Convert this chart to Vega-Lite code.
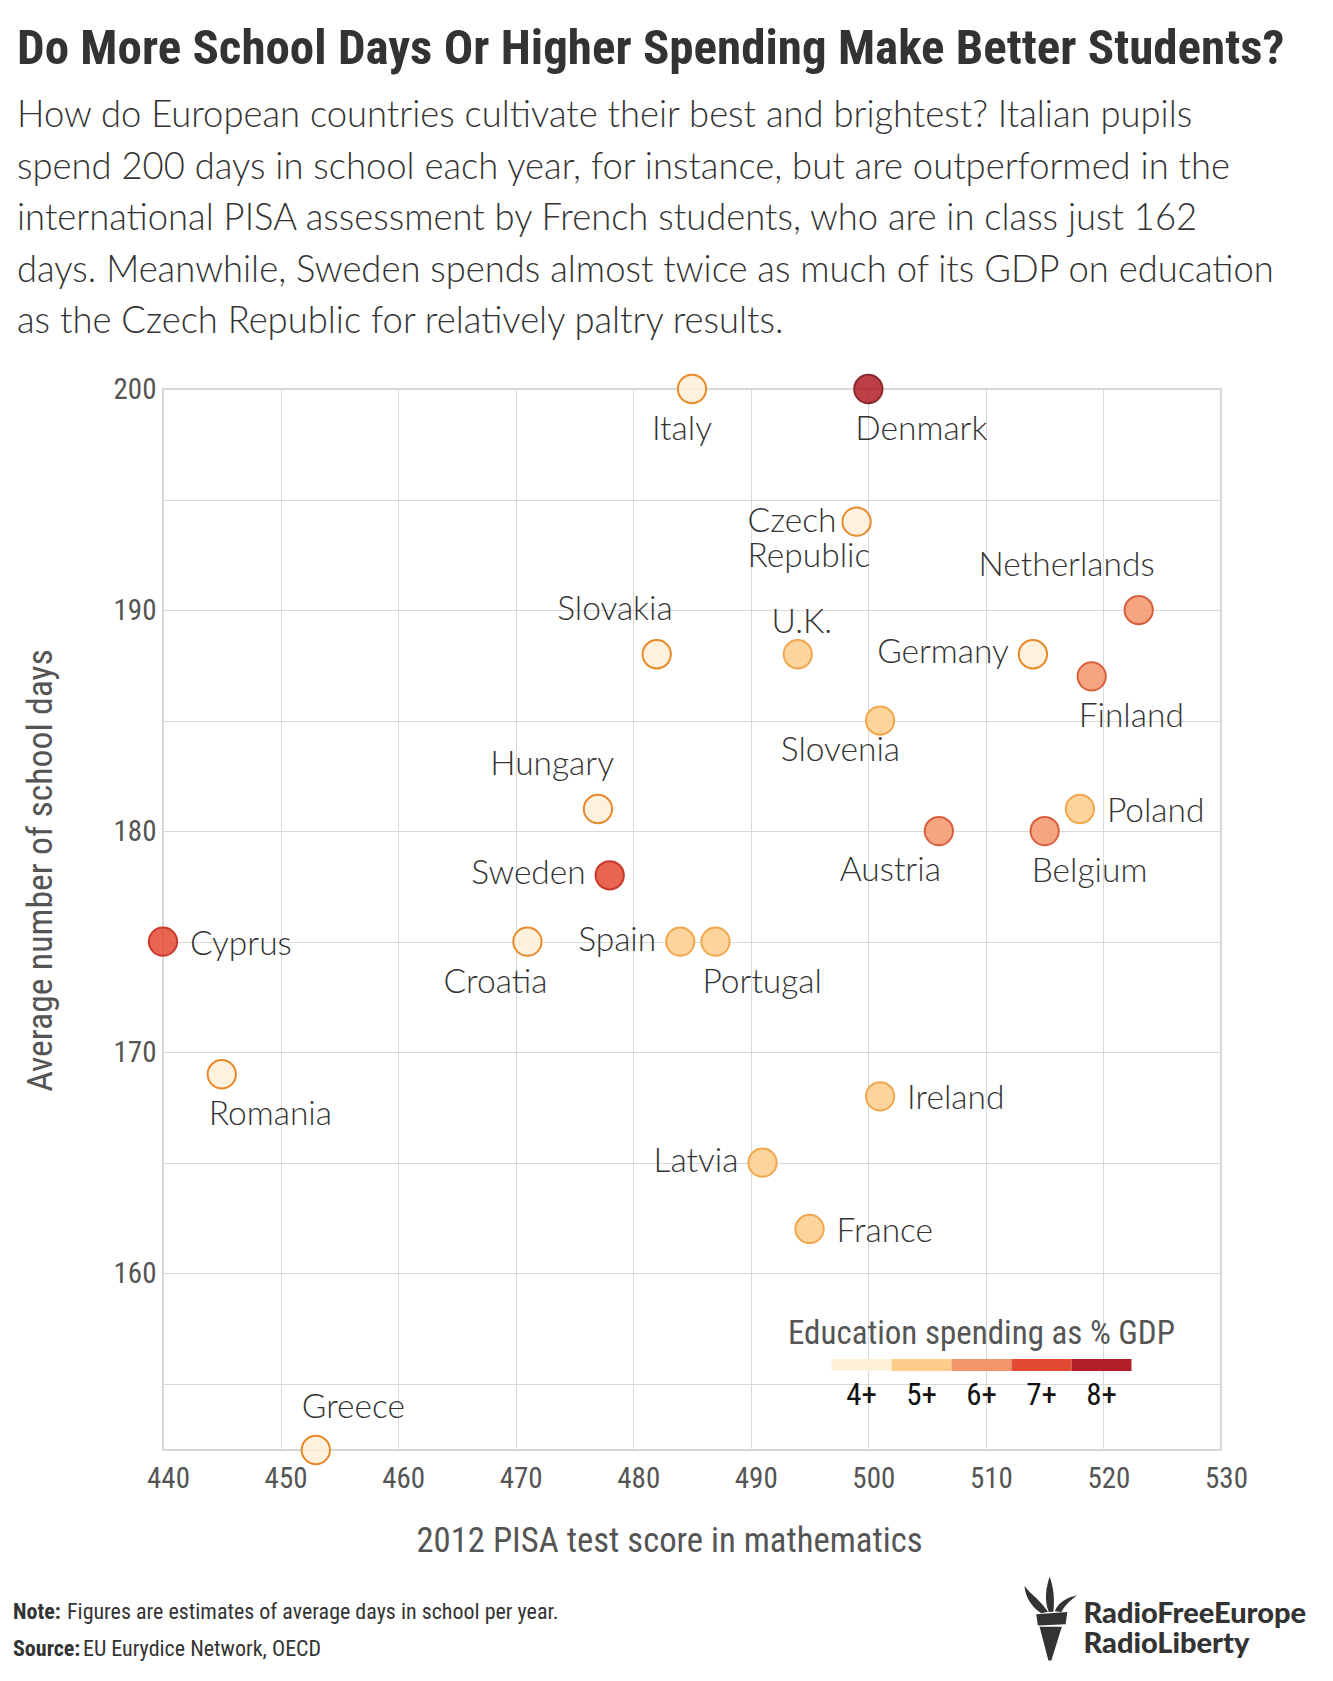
{
  "$schema": "https://vega.github.io/schema/vega-lite/v6.json",
  "autosize": {"type": "pad"},
  "padding": {"left": 13, "top": 25, "right": 10, "bottom": 10},
  "background": "white",
  "config": {
    "view": {"stroke": null},
    "font": "Roboto Condensed, Roboto, sans-serif"
  },
  "title": {
    "text": "Do More School Days Or Higher Spending Make Better Students?",
    "subtitle": [
      "How do European countries cultivate their best and brightest? Italian pupils",
      "spend 200 days in school each year, for instance, but are outperformed in the",
      "international PISA assessment by French students, who are in class just 162",
      "days. Meanwhile, Sweden spends almost twice as much of its GDP on education",
      "as the Czech Republic for relatively paltry results."
    ],
    "anchor": "start",
    "frame": "group",
    "baseline": "top",
    "dx": -146,
    "offset": 29,
    "font": "Roboto Condensed, Roboto, sans-serif",
    "fontSize": 49,
    "fontWeight": "bold",
    "color": "#333333",
    "subtitleFont": "Lato, Noto Sans, sans-serif",
    "subtitleFontSize": 36.4,
    "subtitleFontWeight": 300,
    "subtitleColor": "#333333",
    "subtitleLineHeight": 51.5,
    "subtitlePadding": 24
  },
  "datasets": {
    "countries": [
      {"country": "Italy", "math": 485, "days": 200, "spending": "4+"},
      {"country": "Denmark", "math": 500, "days": 200, "spending": "8+"},
      {"country": "Czech Republic", "math": 499, "days": 194, "spending": "4+"},
      {"country": "Netherlands", "math": 523, "days": 190, "spending": "6+"},
      {"country": "Slovakia", "math": 482, "days": 188, "spending": "4+"},
      {"country": "U.K.", "math": 494, "days": 188, "spending": "5+"},
      {"country": "Germany", "math": 514, "days": 188, "spending": "4+"},
      {"country": "Finland", "math": 519, "days": 187, "spending": "6+"},
      {"country": "Slovenia", "math": 501, "days": 185, "spending": "5+"},
      {"country": "Hungary", "math": 477, "days": 181, "spending": "4+"},
      {"country": "Poland", "math": 518, "days": 181, "spending": "5+"},
      {"country": "Austria", "math": 506, "days": 180, "spending": "6+"},
      {"country": "Belgium", "math": 515, "days": 180, "spending": "6+"},
      {"country": "Sweden", "math": 478, "days": 178, "spending": "7+"},
      {"country": "Cyprus", "math": 440, "days": 175, "spending": "7+"},
      {"country": "Croatia", "math": 471, "days": 175, "spending": "4+"},
      {"country": "Spain", "math": 484, "days": 175, "spending": "5+"},
      {"country": "Portugal", "math": 487, "days": 175, "spending": "5+"},
      {"country": "Romania", "math": 445, "days": 169, "spending": "4+"},
      {"country": "Ireland", "math": 501, "days": 168, "spending": "5+"},
      {"country": "Latvia", "math": 491, "days": 165, "spending": "5+"},
      {"country": "France", "math": 495, "days": 162, "spending": "5+"},
      {"country": "Greece", "math": 453, "days": 152, "spending": "4+"}
    ],
    "brand": [{"name": "RFE/RL torch"}]
  },
  "bounds": "flush",
  "spacing": 191,
  "vconcat": [
    {
      "width": 1058,
      "height": 1061,
      "view": {"stroke": "#d6d6d6", "strokeWidth": 2},
      "data": {"name": "countries"},
      "encoding": {
        "x": {
          "field": "math",
          "type": "quantitative",
          "scale": {"domain": [440, 530], "nice": false, "zero": false},
          "axis": {
            "values": [440, 450, 460, 470, 480, 490, 500, 510, 520, 530],
            "grid": true, "gridColor": "#d9d9d9", "gridWidth": 1,
            "domain": false, "ticks": false, "tickSize": 0,
            "labelFlush": false, "labelOverlap": false,
            "labelOffset": 5, "labelPadding": 14,
            "labelFontSize": 29, "labelColor": "#555555",
            "title": "2012 PISA test score in mathematics",
            "titleFontSize": 34.7, "titleFontWeight": "normal", "titleColor": "#555555",
            "titleX": 506, "titleY": 101, "titleAlign": "center", "titleBaseline": "alphabetic"
          }
        },
        "y": {
          "field": "days",
          "type": "quantitative",
          "scale": {"domain": [152, 200], "nice": false, "zero": false},
          "axis": {
            "values": [155, 160, 165, 170, 175, 180, 185, 190, 195, 200],
            "labelExpr": "datum.value % 10 === 0 ? datum.label : ''",
            "grid": true, "gridColor": "#d9d9d9", "gridWidth": 1,
            "domain": false, "ticks": false, "tickSize": 0,
            "labelOverlap": false, "labelPadding": 7,
            "labelFontSize": 29, "labelColor": "#555555",
            "title": "Average number of school days",
            "titleFontSize": 35.8, "titleFontWeight": "normal", "titleColor": "#555555",
            "titleAngle": -90, "titleX": -111.5, "titleY": 481,
            "titleAlign": "center", "titleBaseline": "alphabetic"
          }
        }
      },
      "layer": [
        {
          "mark": {"type": "circle", "size": 800, "strokeWidth": 2, "opacity": 1, "fillOpacity": 0.85},
          "encoding": {
            "fill": {
              "field": "spending",
              "type": "ordinal",
              "scale": {
                "domain": ["4+", "5+", "6+", "7+", "8+"],
                "range": ["#fef0d9", "#fdcc8a", "#f4956b", "#e34a33", "#b31f27"]
              },
              "legend": {
                "title": "Education spending as % GDP",
                "orient": "none",
                "legendX": 625.5,
                "legendY": 929,
                "direction": "horizontal",
                "columns": 5,
                "columnPadding": 0,
                "rowPadding": 0,
                "padding": 0,
                "symbolType": "M-1,-0.73H1V-0.33H-1Z",
                "symbolSize": 3600,
                "symbolStrokeWidth": 0,
                "symbolStrokeColor": "transparent",
                "symbolOpacity": 1,
                "labelAlign": "center",
                "labelBaseline": "top",
                "labelOffset": -30,
                "labelFontSize": 31,
                "labelColor": "#111111",
                "labelLimit": 0,
                "titleFontSize": 33,
                "titleFontWeight": "normal",
                "titleColor": "#555555",
                "titleAnchor": "middle",
                "titleLimit": 0,
                "titlePadding": 0
              }
            },
            "stroke": {
              "field": "spending",
              "type": "ordinal",
              "scale": {
                "domain": ["4+", "5+", "6+", "7+", "8+"],
                "range": ["#e8892a", "#f0a850", "#d9603f", "#c9392c", "#8b2a2e"]
              },
              "legend": null
            }
          }
        },
        {
          "transform": [{"filter": {"field": "country", "oneOf": ["Poland", "Cyprus", "Ireland", "France"]}}],
          "mark": {"type": "text", "align": "left", "baseline": "alphabetic", "dx": 27, "dy": 13, "font": "Lato, Noto Sans, sans-serif", "fontWeight": 300, "fontSize": 33.5, "color": "#333333"},
          "encoding": {"text": {"field": "country"}}
        },
        {
          "transform": [{"filter": {"field": "country", "oneOf": ["Germany", "Sweden", "Spain", "Latvia"]}}],
          "mark": {"type": "text", "align": "right", "baseline": "alphabetic", "dx": -24, "dy": 9, "font": "Lato, Noto Sans, sans-serif", "fontWeight": 300, "fontSize": 33.5, "color": "#333333"},
          "encoding": {"text": {"field": "country"}}
        },
        {
          "transform": [{"filter": {"field": "country", "oneOf": ["Netherlands", "Slovakia", "Hungary"]}}],
          "mark": {"type": "text", "align": "right", "baseline": "alphabetic", "dx": 16, "dy": -34, "font": "Lato, Noto Sans, sans-serif", "fontWeight": 300, "fontSize": 33.5, "color": "#333333"},
          "encoding": {"text": {"field": "country"}}
        },
        {
          "transform": [{"filter": {"field": "country", "oneOf": ["Greece"]}}],
          "mark": {"type": "text", "align": "left", "baseline": "alphabetic", "dx": -14, "dy": -32, "font": "Lato, Noto Sans, sans-serif", "fontWeight": 300, "fontSize": 33.5, "color": "#333333"},
          "encoding": {"text": {"field": "country"}}
        },
        {
          "transform": [{"filter": {"field": "country", "oneOf": ["U.K."]}}],
          "mark": {"type": "text", "align": "center", "baseline": "alphabetic", "dx": 4, "dy": -21, "font": "Lato, Noto Sans, sans-serif", "fontWeight": 300, "fontSize": 33.5, "color": "#333333"},
          "encoding": {"text": {"field": "country"}}
        },
        {
          "transform": [{"filter": {"field": "country", "oneOf": ["Denmark", "Finland", "Belgium", "Portugal", "Romania"]}}],
          "mark": {"type": "text", "align": "left", "baseline": "alphabetic", "dx": -13, "dy": 51, "font": "Lato, Noto Sans, sans-serif", "fontWeight": 300, "fontSize": 33.5, "color": "#333333"},
          "encoding": {"text": {"field": "country"}}
        },
        {
          "transform": [{"filter": {"field": "country", "oneOf": ["Italy", "Croatia"]}}],
          "mark": {"type": "text", "align": "right", "baseline": "alphabetic", "dx": 20, "dy": 51, "font": "Lato, Noto Sans, sans-serif", "fontWeight": 300, "fontSize": 33.5, "color": "#333333"},
          "encoding": {"text": {"field": "country"}}
        },
        {
          "transform": [{"filter": {"field": "country", "oneOf": ["Slovenia"]}}],
          "mark": {"type": "text", "align": "right", "baseline": "alphabetic", "dx": 20, "dy": 40, "font": "Lato, Noto Sans, sans-serif", "fontWeight": 300, "fontSize": 33.5, "color": "#333333"},
          "encoding": {"text": {"field": "country"}}
        },
        {
          "transform": [{"filter": {"field": "country", "oneOf": ["Austria"]}}],
          "mark": {"type": "text", "align": "right", "baseline": "alphabetic", "dx": 2, "dy": 50, "font": "Lato, Noto Sans, sans-serif", "fontWeight": 300, "fontSize": 33.5, "color": "#333333"},
          "encoding": {"text": {"field": "country"}}
        },
        {
          "transform": [{"filter": {"field": "country", "oneOf": ["Czech Republic"]}}],
          "mark": {"type": "text", "align": "left", "baseline": "alphabetic", "dx": -109, "dy": 10, "lineBreak": " ", "lineHeight": 35, "font": "Lato, Noto Sans, sans-serif", "fontWeight": 300, "fontSize": 33.5, "color": "#333333"},
          "encoding": {"text": {"field": "country"}}
        }
      ]
    },
    {
      "bounds": "flush",
      "spacing": 36.5,
      "vconcat": [
        {
          "bounds": "flush",
          "spacing": 0,
          "hconcat": [
            {
              "width": 53.5, "height": 1,
              "data": {"values": []},
              "mark": "point",
              "title": {"text": "Note:", "anchor": "start", "frame": "group", "orient": "top", "baseline": "alphabetic", "offset": 0, "dx": -150, "fontSize": 22, "fontWeight": "bold", "color": "#333333"}
            },
            {
              "width": 833, "height": 1,
              "data": {"values": []},
              "mark": "point",
              "title": {"text": "Figures are estimates of average days in school per year.", "anchor": "start", "frame": "group", "orient": "top", "baseline": "alphabetic", "offset": 0, "dx": -150, "fontSize": 22, "fontWeight": "normal", "color": "#333333"}
            },
            {
              "width": 1, "height": 1,
              "data": {"name": "brand"},
              "mark": {
                "type": "point",
                "filled": true,
                "opacity": 1,
                "color": "#333333",
                "size": 7056,
                "shape": "M-0.26,-0.35L0.27,-0.35L0.02,0.45L-0.05,0.45Z M-0.34,-0.65L0.4,-0.7L0.36,-0.41L-0.3,-0.38Z M-0.22,-0.67C-0.45,-0.83 -0.6,-1.05 -0.62,-1.33C-0.48,-1.13 -0.25,-1 -0.06,-0.71Z M-0.04,-0.7C-0.16,-1 -0.1,-1.3 -0.02,-1.55C0.08,-1.27 0.1,-1 0.07,-0.71Z M0.1,-0.72C0.2,-0.95 0.4,-1.05 0.64,-1.1C0.45,-0.97 0.32,-0.83 0.26,-0.7Z"
              }
            },
            {
              "width": 1, "height": 1,
              "data": {"values": []},
              "mark": "point",
              "title": {"text": ["RadioFreeEurope", "RadioLiberty"], "anchor": "start", "frame": "group", "orient": "top", "baseline": "alphabetic", "offset": 0, "dx": 32.5, "dy": 41, "lineHeight": 30, "font": "Lato, Noto Sans, sans-serif", "fontSize": 29, "fontWeight": 900, "color": "#333333"}
            }
          ]
        },
        {
          "bounds": "flush",
          "spacing": 0,
          "hconcat": [
            {
              "width": 69.5, "height": 1,
              "data": {"values": []},
              "mark": "point",
              "title": {"text": "Source:", "anchor": "start", "frame": "group", "orient": "top", "baseline": "alphabetic", "offset": 0, "dx": -150, "fontSize": 22, "fontWeight": "bold", "color": "#333333"}
            },
            {
              "width": 1, "height": 1,
              "data": {"values": []},
              "mark": "point",
              "title": {"text": "EU Eurydice Network, OECD", "anchor": "start", "frame": "group", "orient": "top", "baseline": "alphabetic", "offset": 0, "dx": -150, "fontSize": 22, "fontWeight": "normal", "color": "#333333"}
            }
          ]
        }
      ]
    }
  ]
}
